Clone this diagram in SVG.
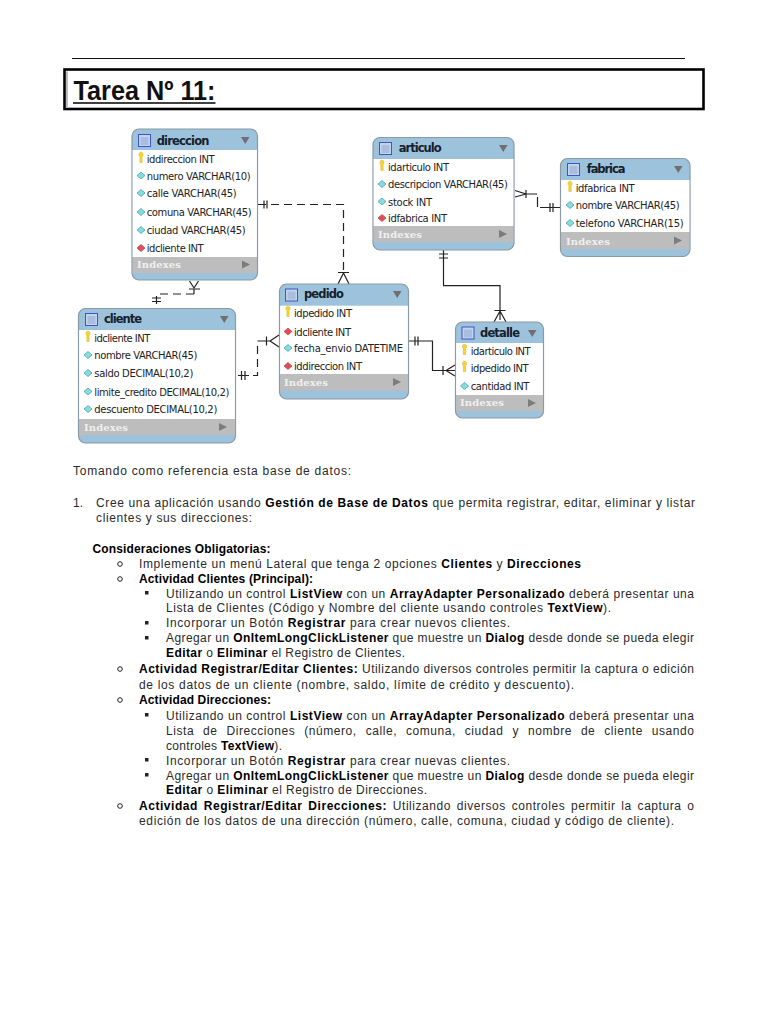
<svg xmlns="http://www.w3.org/2000/svg" width="768" height="1024" viewBox="0 0 768 1024">
<style>
text{fill:#111}
.t{font-family:"Liberation Sans",Arial,sans-serif;font-size:12px;fill:#2a2a2a}
.t tspan{font-weight:700;fill:#000}
.r{font-family:"DejaVu Sans",sans-serif;font-size:10px;fill:#222}
.h{font-family:"DejaVu Sans",sans-serif;font-size:11.5px;font-weight:700;fill:#16202c}
.i{font-family:"DejaVu Serif",serif;font-size:10px;font-weight:700;fill:#f0f0f0}
.box{fill:#9cc2dc;stroke:#8a9aa6;stroke-width:1.2}
.w{fill:#fff}.g{fill:#bdbdbd}
.c{fill:none;stroke:#222;stroke-width:1.2}
.d{stroke-dasharray:8 5}
</style>
<defs>
<g id="tb"><rect x="0.5" y="0.5" width="12" height="12" fill="#c5d4ee" stroke="#3d55c8"/><rect x="2.500" y="3" width="8" height="8" fill="#a9bedf"/></g>
<g id="key"><path d="M-2-5.500a2.200 2.200 0 0 1 4 0v2l-.8 1v6h-2.400v-6l-.8-1z" fill="#f7d52e" stroke="#c9a52a" stroke-width=".4"/></g>
<path id="cy" d="M-4 0 0-3.500 4 0 0 3.500z" fill="#7fe0e4" stroke="#4f8f9a" stroke-width=".7"/>
<path id="rd" d="M-4 0 0-3.500 4 0 0 3.500z" fill="#e84a55" stroke="#a84a55" stroke-width=".7"/>
<path id="dn" d="M0 0h8.500l-4.250 7z" fill="#6f6f6f"/>
<path id="rt" d="M0 0l8 4-8 4z" fill="#7c7c7c"/>
</defs>

<path d="M72 58.500H685" stroke="#111" stroke-width="1.200"/>
<rect x="64.500" y="69.500" width="639" height="39.500" fill="#fff" stroke="#000" stroke-width="2.600"/>
<path d="M67 71.500V107" stroke="#555" stroke-width=".8"/>
<text x="73.500" y="99.500" font-family="'Liberation Sans',sans-serif" font-size="28" font-weight="700" textLength="142" lengthAdjust="spacingAndGlyphs" fill="#000">Tarea Nº 11:</text>
<path d="M73 103H215.500" stroke="#000" stroke-width="1.500"/>

<g id="connectors">
<path class="c d" d="M258 204.500H343.500V272"/>
<path class="c" d="M264 200.500v8M267 200.500v8M338 272.500h11M343.500 273l-5.500 11M343.500 273l5.500 11"/>
<path class="c d" d="M194 294H160"/>
<path class="c" d="M194 289v5M189 289h11M194 288l-4.500-7M194 288l4.500-7M152 298h9M152 301.500h9M156.500 296v8"/>
<path class="c" d="M515 190.500l11 3.500-11 3M526 190v8M526 194h11M537.500 197v10M540 207.500h20M550 203v9M553 203v9"/>
<path class="c" d="M443.500 250V285.700H500V320M439 254h9M439 258h9M494.500 310.500h11M500 311l-6 11M500 311l6 11"/>
<path class="c" d="M409 341H432.500V370.500H455M415 336.500v9M418 336.500v9M443 366v9M446 370.500l9-5.500M446 370.500l9 5.500"/>
<path class="c d" d="M253 375.500H257.500V341H262"/>
<path class="c" d="M262 341h8M266.500 336.500v9M270 341l9-6M270 341l9 6M241.500 371v9M245 371v9M238 375.500h11"/>
</g>

<g id="direccion"><rect class="box" x="132" y="129" width="125.500" height="151" rx="7"/>
<rect class="w" x="132.600" y="150" width="124.300" height="107"/><rect class="g" x="132.600" y="257" width="124.300" height="16"/>
<use href="#tb" x="138" y="134"/><text class="h" x="156.700" y="144.500" textLength="52.700">direccion</text><use href="#dn" x="241" y="137"/>
<use href="#key" x="141" y="159"/><text class="r" x="146.700" y="163" textLength="68">iddireccion INT</text>
<use href="#cy" x="141" y="175.500"/><text class="r" x="146.700" y="179.500" textLength="104">numero VARCHAR(10)</text>
<use href="#cy" x="141" y="193"/><text class="r" x="146.700" y="197" textLength="90">calle VARCHAR(45)</text>
<use href="#cy" x="141" y="212"/><text class="r" x="146.700" y="216" textLength="105">comuna VARCHAR(45)</text>
<use href="#cy" x="141" y="230"/><text class="r" x="146.700" y="234" textLength="99">ciudad VARCHAR(45)</text>
<use href="#rd" x="141" y="248"/><text class="r" x="146.700" y="252" textLength="57">idcliente INT</text>
<text class="i" x="137" y="267.500" textLength="44">Indexes</text><use href="#rt" x="242" y="260.500"/></g>

<g id="articulo"><rect class="box" x="373" y="137.500" width="141" height="112.500" rx="7"/>
<rect class="w" x="373.600" y="159" width="139.800" height="67"/><rect class="g" x="373.600" y="226" width="139.800" height="16"/>
<use href="#tb" x="379" y="142"/><text class="h" x="398.700" y="152" textLength="43">articulo</text><use href="#dn" x="499" y="145"/>
<use href="#key" x="382" y="167"/><text class="r" x="388" y="171" textLength="61">idarticulo INT</text>
<use href="#cy" x="382" y="184"/><text class="r" x="388" y="188" textLength="120">descripcion VARCHAR(45)</text>
<use href="#cy" x="382" y="201.500"/><text class="r" x="388" y="205.500" textLength="44">stock INT</text>
<use href="#rd" x="382" y="218"/><text class="r" x="388" y="222" textLength="59">idfabrica INT</text>
<text class="i" x="378" y="237.500" textLength="44">Indexes</text><use href="#rt" x="499" y="230"/></g>

<g id="fabrica"><rect class="box" x="560.500" y="158.500" width="129.500" height="98" rx="7"/>
<rect class="w" x="561.100" y="180" width="128.300" height="52"/><rect class="g" x="561.100" y="232" width="128.300" height="17"/>
<use href="#tb" x="567" y="163"/><text class="h" x="586.700" y="173" textLength="38.700">fabrica</text><use href="#dn" x="674" y="166"/>
<use href="#key" x="570" y="188"/><text class="r" x="575.700" y="192" textLength="59">idfabrica INT</text>
<use href="#cy" x="570" y="205"/><text class="r" x="575.700" y="209" textLength="104">nombre VARCHAR(45)</text>
<use href="#cy" x="570" y="223"/><text class="r" x="575.700" y="227" textLength="108">telefono VARCHAR(15)</text>
<text class="i" x="566" y="244.500" textLength="44">Indexes</text><use href="#rt" x="674" y="236.500"/></g>

<g id="cliente"><rect class="box" x="78.500" y="308.500" width="157" height="134.500" rx="7"/>
<rect class="w" x="79.100" y="330" width="155.800" height="89"/><rect class="g" x="79.100" y="419" width="155.800" height="16"/>
<use href="#tb" x="85" y="313"/><text class="h" x="104" y="323" textLength="38">cliente</text><use href="#dn" x="220" y="316"/>
<use href="#key" x="88" y="338"/><text class="r" x="94.300" y="342" textLength="56">idcliente INT</text>
<use href="#cy" x="88" y="355"/><text class="r" x="94.300" y="359" textLength="103">nombre VARCHAR(45)</text>
<use href="#cy" x="88" y="373"/><text class="r" x="94.300" y="377" textLength="99">saldo DECIMAL(10,2)</text>
<use href="#cy" x="88" y="391.500"/><text class="r" x="94.300" y="395.500" textLength="135">limite_credito DECIMAL(10,2)</text>
<use href="#cy" x="88" y="409"/><text class="r" x="94.300" y="413" textLength="123">descuento DECIMAL(10,2)</text>
<text class="i" x="84" y="430.500" textLength="44">Indexes</text><use href="#rt" x="219" y="423"/></g>

<g id="pedido"><rect class="box" x="279.500" y="284" width="129" height="115" rx="7"/>
<rect class="w" x="280.100" y="305.700" width="127.800" height="68.300"/><rect class="g" x="280.100" y="374" width="127.800" height="16.700"/>
<use href="#tb" x="285" y="288.500"/><text class="h" x="304" y="298" textLength="40">pedido</text><use href="#dn" x="393" y="291"/>
<use href="#key" x="288" y="313"/><text class="r" x="294" y="317" textLength="58">idpedido INT</text>
<use href="#rd" x="288" y="331.500"/><text class="r" x="294" y="335.500" textLength="57">idcliente INT</text>
<use href="#cy" x="288" y="348"/><text class="r" x="294" y="352" textLength="109">fecha_envio DATETIME</text>
<use href="#rd" x="288" y="366"/><text class="r" x="294" y="370" textLength="68">iddireccion INT</text>
<text class="i" x="284" y="385.500" textLength="44">Indexes</text><use href="#rt" x="393" y="378"/></g>

<g id="detalle"><rect class="box" x="455.500" y="322" width="88" height="96" rx="7"/>
<rect class="w" x="456.100" y="343" width="86.800" height="52"/><rect class="g" x="456.100" y="395" width="86.800" height="16"/>
<use href="#tb" x="461.500" y="326.500"/><text class="h" x="480" y="337" textLength="40">detalle</text><use href="#dn" x="528" y="330"/>
<use href="#key" x="464.500" y="351"/><text class="r" x="470.700" y="355" textLength="60">idarticulo INT</text>
<use href="#key" x="464.500" y="368"/><text class="r" x="470.700" y="372" textLength="58">idpedido INT</text>
<use href="#cy" x="464.500" y="386"/><text class="r" x="470.700" y="390" textLength="58.700">cantidad INT</text>
<text class="i" x="460" y="406" textLength="44">Indexes</text><use href="#rt" x="528" y="399"/></g>

<g id="body">
<text class="t" x="73" y="475" textLength="278">Tomando como referencia esta base de datos:</text>
<text class="t" x="73" y="507">1.</text>
<text class="t" x="96" y="507" textLength="599">Cree una aplicación usando <tspan>Gestión de Base de Datos</tspan> que permita registrar, editar, eliminar y listar</text>
<text class="t" x="96" y="522" textLength="156">clientes y sus direcciones:</text>
<text class="t" x="92.500" y="553" textLength="178"><tspan>Consideraciones Obligatorias:</tspan></text>
<circle cx="120" cy="564" r="2.300" fill="none" stroke="#222"/>
<text class="t" x="139" y="568" textLength="442">Implemente un menú Lateral que tenga 2 opciones <tspan>Clientes</tspan> y <tspan>Direcciones</tspan></text>
<circle cx="120" cy="579" r="2.300" fill="none" stroke="#222"/>
<text class="t" x="139" y="583" textLength="174"><tspan>Actividad Clientes (Principal):</tspan></text>
<rect x="145" y="591" width="3.500" height="3.500" fill="#222"/>
<text class="t" x="166" y="598" textLength="528">Utilizando un control <tspan>ListView</tspan> con un <tspan>ArrayAdapter Personalizado</tspan> deberá presentar una</text>
<text class="t" x="166" y="612" textLength="445">Lista de Clientes (Código y Nombre del cliente usando controles <tspan>TextView</tspan>).</text>
<rect x="145" y="621" width="3.500" height="3.500" fill="#222"/>
<text class="t" x="166" y="627" textLength="344">Incorporar un Botón <tspan>Registrar</tspan> para crear nuevos clientes.</text>
<rect x="145" y="636" width="3.500" height="3.500" fill="#222"/>
<text class="t" x="166" y="642" textLength="528">Agregar un <tspan>OnItemLongClickListener</tspan> que muestre un <tspan>Dialog</tspan> desde donde se pueda elegir</text>
<text class="t" x="166" y="657" textLength="239"><tspan>Editar</tspan> o <tspan>Eliminar</tspan> el Registro de Clientes.</text>
<circle cx="120" cy="669" r="2.300" fill="none" stroke="#222"/>
<text class="t" x="139" y="673" textLength="555"><tspan>Actividad Registrar/Editar Clientes:</tspan> Utilizando diversos controles permitir la captura o edición</text>
<text class="t" x="139" y="689" textLength="435">de los datos de un cliente (nombre, saldo, límite de crédito y descuento).</text>
<circle cx="120" cy="700" r="2.300" fill="none" stroke="#222"/>
<text class="t" x="139" y="704" textLength="132"><tspan>Actividad Direcciones:</tspan></text>
<rect x="145" y="713" width="3.500" height="3.500" fill="#222"/>
<text class="t" x="166" y="720" textLength="528">Utilizando un control <tspan>ListView</tspan> con un <tspan>ArrayAdapter Personalizado</tspan> deberá presentar una</text>
<text class="t" x="166" y="735" word-spacing="5" textLength="528">Lista de Direcciones (número, calle, comuna, ciudad y nombre de cliente usando</text>
<text class="t" x="166" y="750" textLength="116">controles <tspan>TextView</tspan>).</text>
<rect x="145" y="758" width="3.500" height="3.500" fill="#222"/>
<text class="t" x="166" y="765" textLength="344">Incorporar un Botón <tspan>Registrar</tspan> para crear nuevas clientes.</text>
<rect x="145" y="773" width="3.500" height="3.500" fill="#222"/>
<text class="t" x="166" y="780" textLength="528">Agregar un <tspan>OnItemLongClickListener</tspan> que muestre un <tspan>Dialog</tspan> desde donde se pueda elegir</text>
<text class="t" x="166" y="794" textLength="261"><tspan>Editar</tspan> o <tspan>Eliminar</tspan> el Registro de Direcciones.</text>
<circle cx="120" cy="806" r="2.300" fill="none" stroke="#222"/>
<text class="t" x="139" y="810" word-spacing="2" textLength="555"><tspan>Actividad Registrar/Editar Direcciones:</tspan> Utilizando diversos controles permitir la captura o</text>
<text class="t" x="139" y="825" textLength="535">edición de los datos de una dirección (número, calle, comuna, ciudad y código de cliente).</text>
</g>
</svg>
